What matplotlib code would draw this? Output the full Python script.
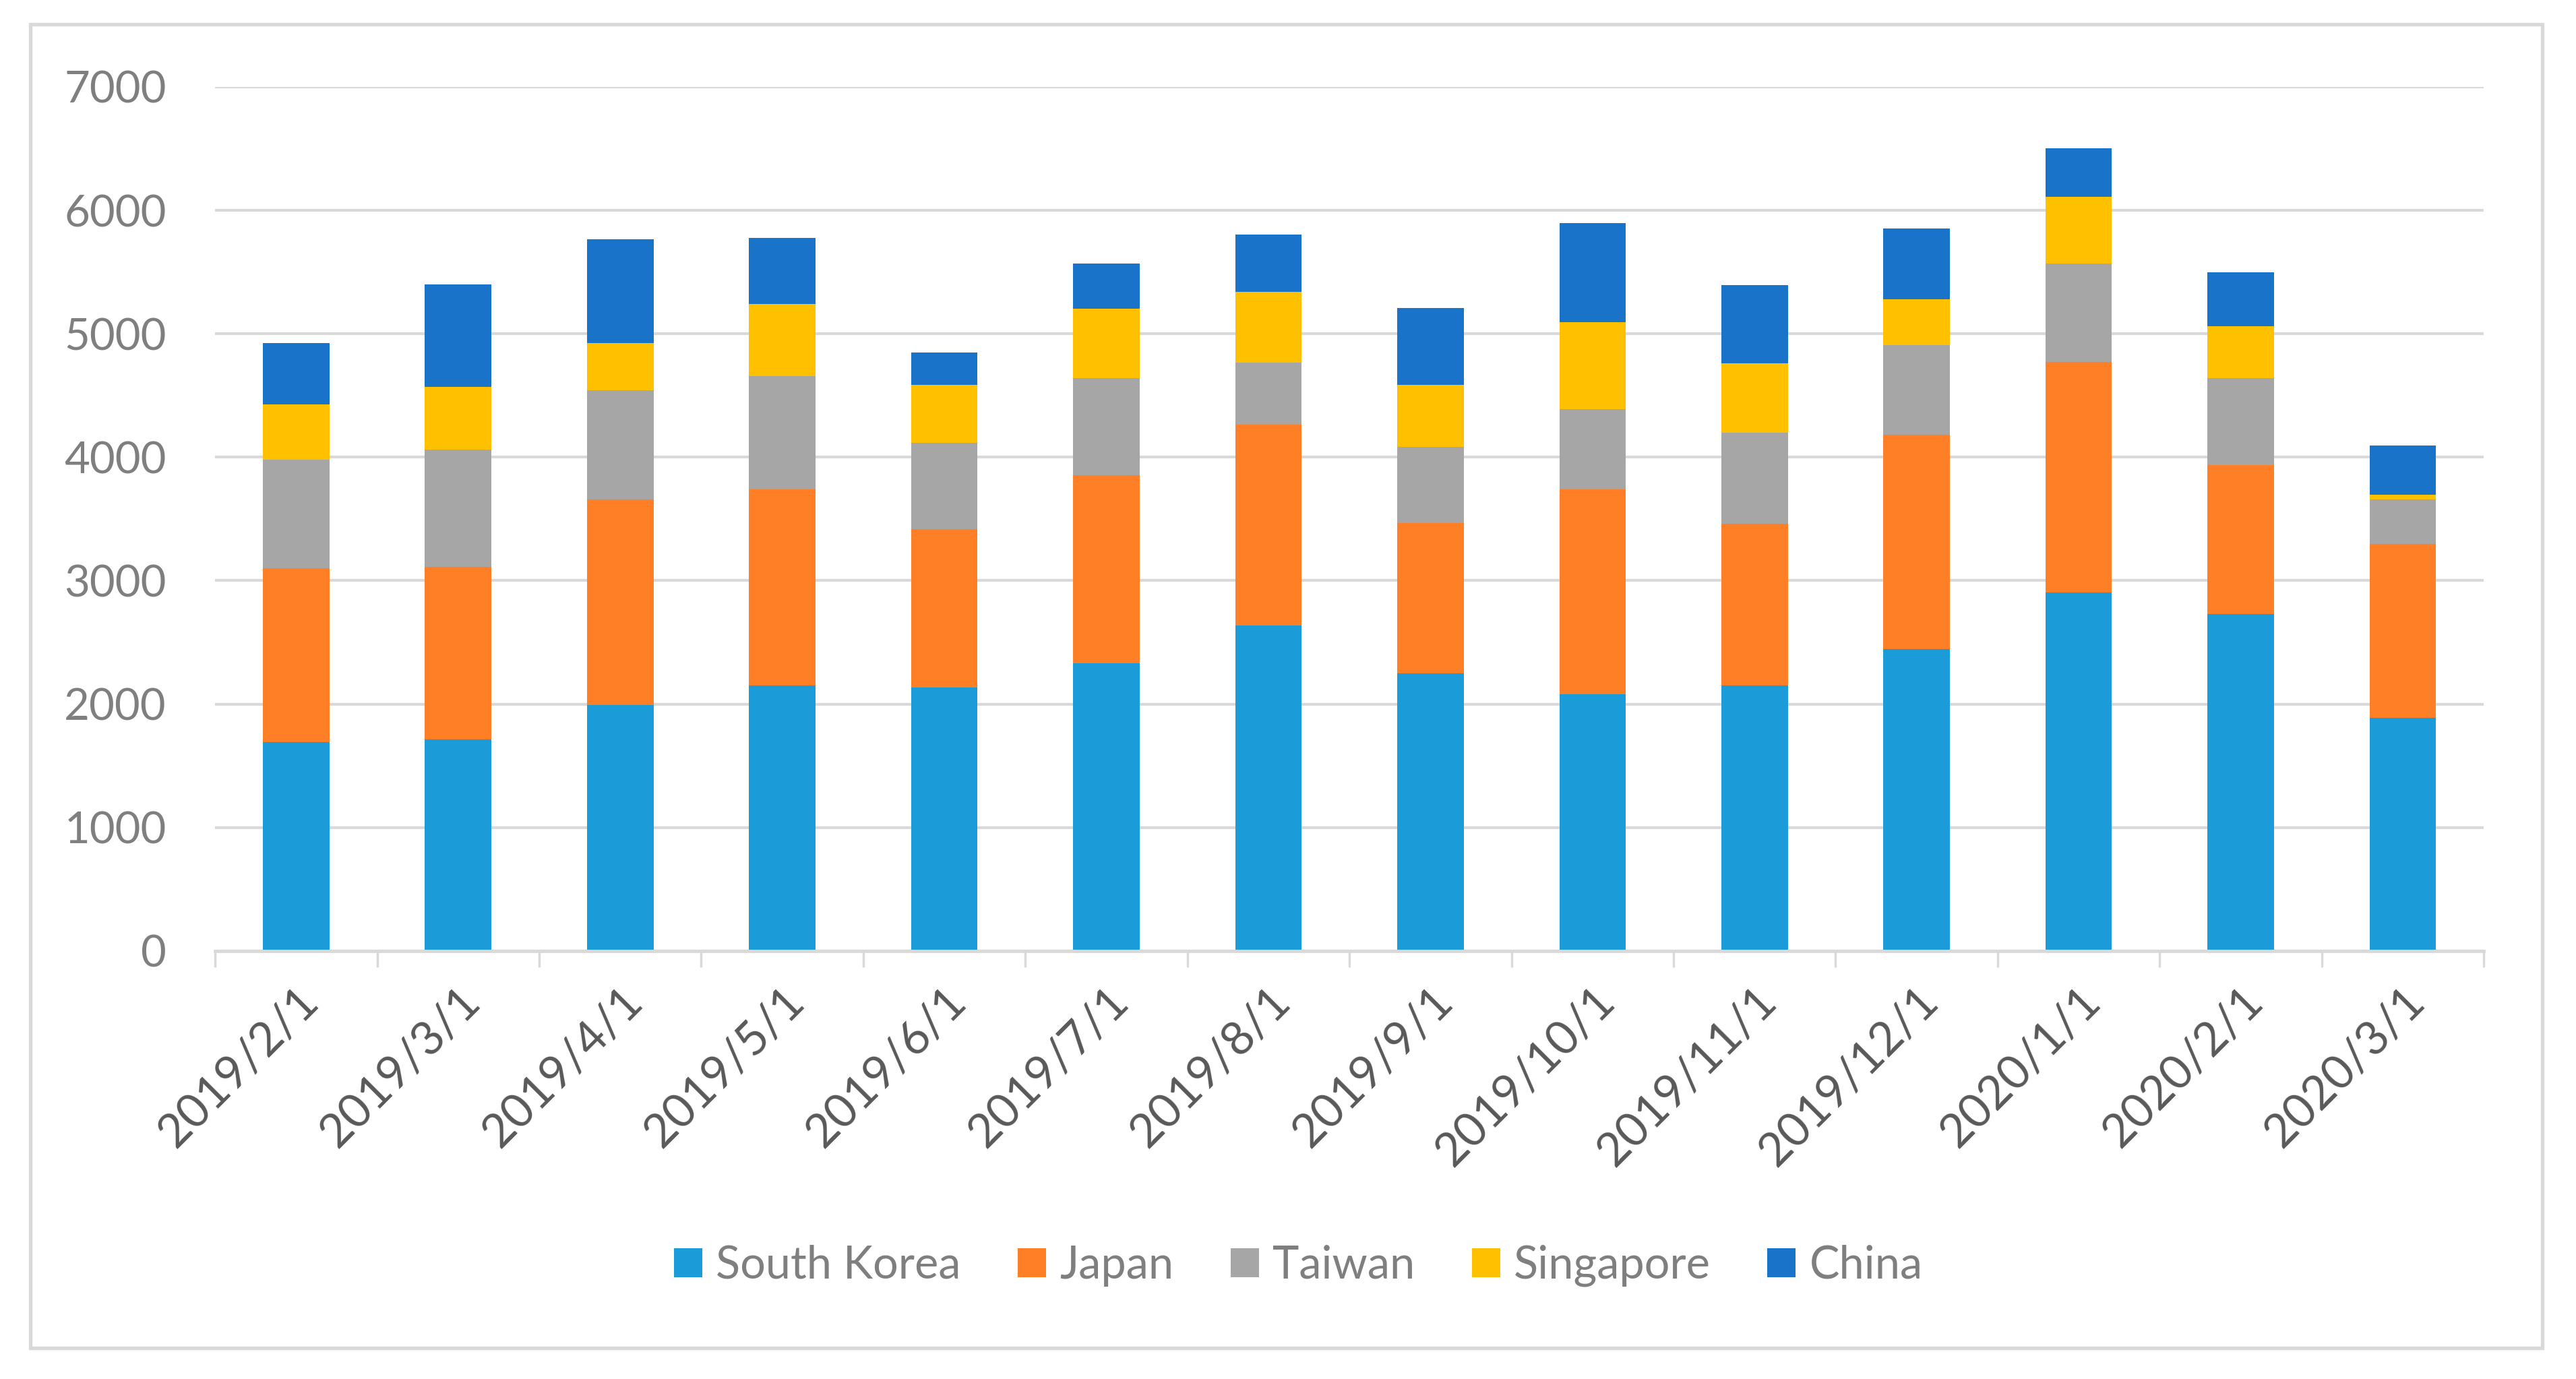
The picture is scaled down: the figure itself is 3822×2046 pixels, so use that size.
import numpy as np
import matplotlib
matplotlib.use("Agg")
import matplotlib.pyplot as plt
from matplotlib.patches import Rectangle

plt.rcParams["font.family"] = ["Lato", "DejaVu Sans"]

months = ["2019/2/1", "2019/3/1", "2019/4/1", "2019/5/1", "2019/6/1", "2019/7/1",
          "2019/8/1", "2019/9/1", "2019/10/1", "2019/11/1", "2019/12/1",
          "2020/1/1", "2020/2/1", "2020/3/1"]

south_korea = [1693, 1714, 1991, 2153, 2132, 2330, 2638, 2247, 2079, 2153, 2445, 2905, 2727, 1891]
japan = [1410, 1400, 1666, 1588, 1285, 1526, 1625, 1222, 1662, 1306, 1735, 1865, 1212, 1406]
taiwan = [878, 946, 883, 914, 700, 783, 502, 617, 648, 742, 726, 800, 700, 360]
singapore = [444, 512, 387, 585, 470, 565, 575, 501, 705, 559, 376, 538, 424, 37]
china = [502, 830, 836, 538, 261, 365, 465, 622, 805, 632, 570, 397, 433, 402]

series = [("South Korea", south_korea, "#1b9cd8"),
          ("Japan", japan, "#ff7f27"),
          ("Taiwan", taiwan, "#a6a6a6"),
          ("Singapore", singapore, "#ffc000"),
          ("China", china, "#1873c9")]

fig = plt.figure(figsize=(38.22, 20.46), dpi=100)
ax = fig.add_axes([0.0835, 0.3104, 0.8807, 0.6266])

x = np.arange(len(months))
bottom = np.zeros(len(months))
for name, vals, col in series:
    ax.bar(x, vals, 0.41, bottom=bottom, color=col, label=name, zorder=3)
    bottom += np.array(vals)

ax.set_xlim(-0.5, len(months) - 0.5)
ax.set_ylim(0, 7000)
ax.set_yticks(range(0, 7001, 1000))
ax.grid(axis="y", color="#d9d9d9", linewidth=3, zorder=0)

for s in ["top", "left", "right"]:
    ax.spines[s].set_visible(False)
ax.spines["bottom"].set_color("#d9d9d9")
ax.spines["bottom"].set_linewidth(3.5)
ax.spines["bottom"].set_zorder(4)

ax.set_xticks(x)
ax.set_xticklabels(months, rotation=45, ha="right", rotation_mode="anchor")
ax.set_xticks(np.arange(-0.5, len(months)), minor=True)
ax.tick_params(axis="x", which="major", length=0, pad=30, labelsize=50, labelcolor="#595959")
ax.tick_params(axis="x", which="minor", length=17, width=2.5, color="#d9d9d9")
ax.tick_params(axis="y", length=0, pad=52, labelsize=47, labelcolor="#7f7f7f")

fig.legend(loc="center", bbox_to_anchor=(0.504, 0.082), ncol=5, frameon=False,
           fontsize=48, labelcolor="#7f7f7f", handlelength=0.63, handleheight=0.63,
           handletextpad=0.3, columnspacing=1.27)

fig.patches.append(Rectangle((0.0118, 0.0225), 0.975, 0.96, transform=fig.transFigure,
                             fill=False, edgecolor="#d9d9d9", linewidth=3.8))

fig.savefig("out.png", dpi=100)
